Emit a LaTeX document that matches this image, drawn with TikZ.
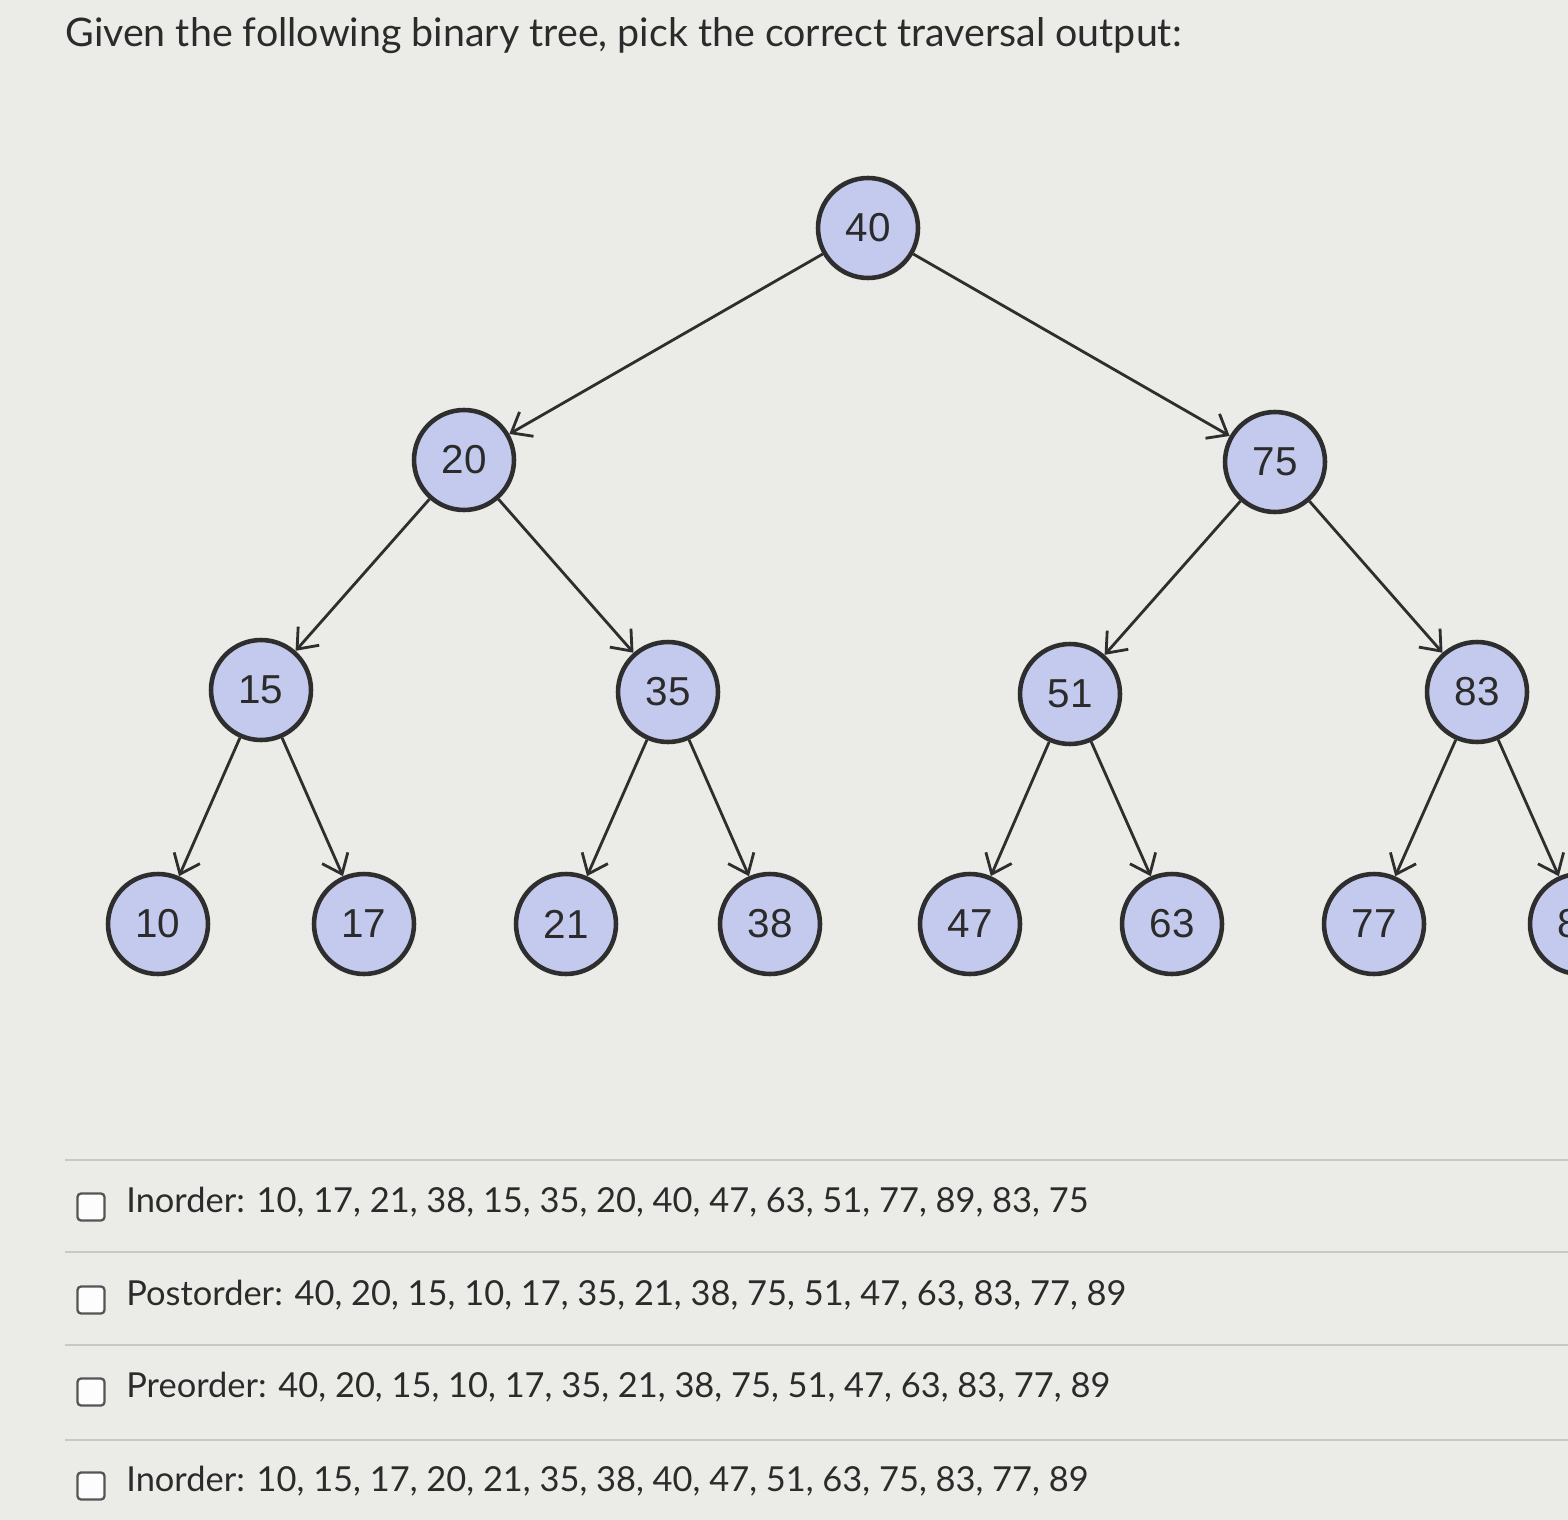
\documentclass[tikz,border=0pt]{standalone}
\usepackage{fontspec}
\setmainfont{Lato}
\newfontfamily\nodefont{Liberation Sans}
\usetikzlibrary{arrows.meta}
\definecolor{bg}{HTML}{EBEBE8}
\definecolor{nfill}{HTML}{C3CAEE}
\definecolor{nline}{HTML}{2E2E2E}
\definecolor{txt}{HTML}{2B2B2B}
\definecolor{rule}{HTML}{C8C8C4}
\tikzset{
  tn/.style={circle,draw=nline,line width=2.6pt,fill=nfill,minimum size=2cm,inner sep=0pt,font=\nodefont\fontsize{23}{26}\selectfont,text=txt},
  edge/.style={draw=nline,line width=1.6pt,-{Straight Barb[length=10pt,width=16pt,line width=1.6pt]}},
  opt/.style={anchor=west,font=\fontsize{19.6}{24}\selectfont,text=txt,inner sep=0pt},
  cbox/.style={draw=txt!80,line width=1.3pt,rounded corners=2pt,minimum size=0.54cm,inner sep=0pt,fill=white!90!bg},
  sep/.style={draw=rule,line width=0.9pt}
}
\begin{document}
\begin{tikzpicture}[x=0.02cm,y=-0.02cm]
\fill[bg] (0,0) rectangle (1568,1520);
\clip (0,0) rectangle (1568,1520);
\useasboundingbox (0,0) rectangle (1568,1520);
\node[anchor=west,inner sep=0pt,font=\fontsize{22.4}{27}\selectfont,text=txt] (title) at (65,36) {Given the following binary tree, pick the correct traversal output:};
\node[tn] (n40) at (868,228) {40};
\node[tn] (n20) at (464,460) {20};
\node[tn] (n75) at (1275,462) {75};
\node[tn] (n15) at (261,690) {15};
\node[tn] (n35) at (668,692) {35};
\node[tn] (n51) at (1070,694) {51};
\node[tn] (n83) at (1477,692) {83};
\node[tn] (n10) at (158,924) {10};
\node[tn] (n17) at (364,924) {17};
\node[tn] (n21) at (566,924) {21};
\node[tn] (n38) at (770,924) {38};
\node[tn] (n47) at (970,924) {47};
\node[tn] (n63) at (1172,924) {63};
\node[tn] (n77) at (1374,924) {77};
\node[tn] (n89) at (1580,924) {89};
\foreach \a/\b in {40/20,40/75,20/15,20/35,75/51,75/83,15/10,15/17,35/21,35/38,51/47,51/63,83/77,83/89}
  \draw[edge] (n\a) -- (n\b);
\coordinate (l1) at (65,1160); \coordinate (r1) at (1568,1160);
\coordinate (l2) at (65,1252); \coordinate (r2) at (1568,1252);
\coordinate (l3) at (65,1345); \coordinate (r3) at (1568,1345);
\coordinate (l4) at (65,1440); \coordinate (r4) at (1568,1440);
\draw[sep] (l1) -- (r1); \draw[sep] (l2) -- (r2); \draw[sep] (l3) -- (r3); \draw[sep] (l4) -- (r4);
\node[cbox] (c1) at (91,1207) {};
\node[cbox] (c2) at (91,1300) {};
\node[cbox] (c3) at (91,1392) {};
\node[cbox] (c4) at (91,1486) {};
\node[opt] (o1) at (126,1202) {Inorder: 10, 17, 21, 38, 15, 35, 20, 40, 47, 63, 51, 77, 89, 83, 75};
\node[opt] (o2) at (126,1295) {Postorder: 40, 20, 15, 10, 17, 35, 21, 38, 75, 51, 47, 63, 83, 77, 89};
\node[opt] (o3) at (126,1387) {Preorder: 40, 20, 15, 10, 17, 35, 21, 38, 75, 51, 47, 63, 83, 77, 89};
\node[opt] (o4) at (126,1481) {Inorder: 10, 15, 17, 20, 21, 35, 38, 40, 47, 51, 63, 75, 83, 77, 89};
\end{tikzpicture}
\end{document}
